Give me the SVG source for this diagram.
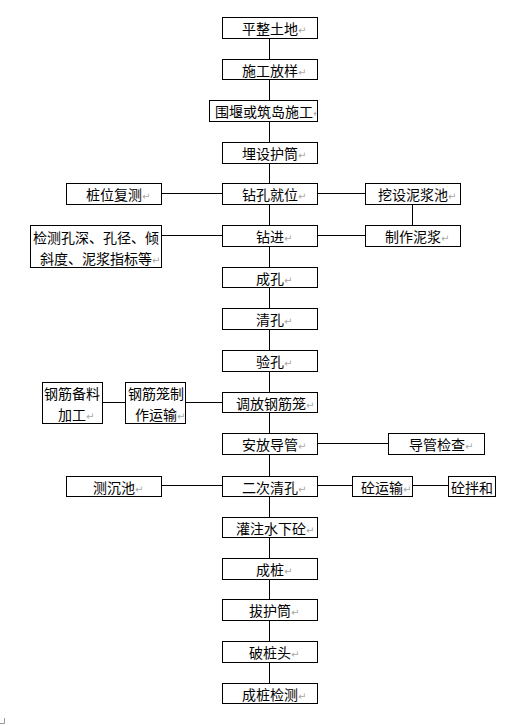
<svg xmlns="http://www.w3.org/2000/svg" width="525" height="726" viewBox="0 0 525 726">
<style>
rect.b{fill:#fff;stroke:#000;stroke-width:1}
text{font-family:"Noto Sans CJK SC","Liberation Sans",sans-serif;font-size:14px;fill:#000}
tspan.r{font-family:"DejaVu Sans",sans-serif;font-size:10px;fill:#a8a8a8}
#connectors line{stroke:#000;stroke-width:1}
</style>
<defs>
<clipPath id="c1"><rect x="209" y="100" width="107.5" height="21"/></clipPath>
<clipPath id="c2"><rect x="126" y="382" width="59.5" height="41"/></clipPath>
<clipPath id="c3"><rect x="353" y="476" width="59.5" height="20"/></clipPath>
</defs>
<rect width="525" height="726" fill="#fff"/>
<g id="connectors">
<line x1="269.5" y1="38" x2="269.5" y2="59"/>
<line x1="269.5" y1="79" x2="269.5" y2="100"/>
<line x1="269.5" y1="121" x2="269.5" y2="142"/>
<line x1="269.5" y1="163" x2="269.5" y2="183"/>
<line x1="269.5" y1="204" x2="269.5" y2="225"/>
<line x1="269.5" y1="246" x2="269.5" y2="267"/>
<line x1="269.5" y1="287" x2="269.5" y2="308"/>
<line x1="269.5" y1="329" x2="269.5" y2="350"/>
<line x1="269.5" y1="371" x2="269.5" y2="392"/>
<line x1="269.5" y1="412" x2="269.5" y2="433"/>
<line x1="269.5" y1="454" x2="269.5" y2="476"/>
<line x1="269.5" y1="496" x2="269.5" y2="517"/>
<line x1="269.5" y1="537" x2="269.5" y2="558"/>
<line x1="269.5" y1="579" x2="269.5" y2="599"/>
<line x1="269.5" y1="620" x2="269.5" y2="641"/>
<line x1="269.5" y1="662" x2="269.5" y2="683"/>
<line x1="162" y1="193.5" x2="222" y2="193.5"/>
<line x1="317" y1="193.5" x2="365" y2="193.5"/>
<line x1="162" y1="235.5" x2="222" y2="235.5"/>
<line x1="317" y1="235.5" x2="365" y2="235.5"/>
<line x1="412.5" y1="204" x2="412.5" y2="225"/>
<line x1="102" y1="402.5" x2="126" y2="402.5"/>
<line x1="186" y1="402.5" x2="222" y2="402.5"/>
<line x1="317" y1="443.5" x2="389" y2="443.5"/>
<line x1="162" y1="485.5" x2="222" y2="485.5"/>
<line x1="317" y1="485.5" x2="353" y2="485.5"/>
<line x1="413" y1="485.5" x2="448" y2="485.5"/>
</g>
<g id="n1"><rect class="b" x="222.5" y="17.5" width="95" height="21"/><text x="242" y="34">平整土地<tspan class="r">↵</tspan></text></g>
<g id="n2"><rect class="b" x="222.5" y="59.5" width="95" height="20"/><text x="242" y="75.5">施工放样<tspan class="r">↵</tspan></text></g>
<g id="n3"><rect class="b" x="209.5" y="100.5" width="108" height="21"/><text x="215" y="117" clip-path="url(#c1)">围堰或筑岛施工<tspan class="r">↵</tspan></text></g>
<g id="n4"><rect class="b" x="222.5" y="142.5" width="95" height="21"/><text x="242" y="159">埋设护筒<tspan class="r">↵</tspan></text></g>
<g id="n5"><rect class="b" x="222.5" y="183.5" width="95" height="21"/><text x="242" y="200">钻孔就位<tspan class="r">↵</tspan></text></g>
<g id="n6"><rect class="b" x="222.5" y="225.5" width="95" height="21"/><text x="256" y="242">钻进<tspan class="r">↵</tspan></text></g>
<g id="n7"><rect class="b" x="222.5" y="267.5" width="95" height="20"/><text x="256" y="283.5">成孔<tspan class="r">↵</tspan></text></g>
<g id="n8"><rect class="b" x="222.5" y="308.5" width="95" height="21"/><text x="256" y="325">清孔<tspan class="r">↵</tspan></text></g>
<g id="n9"><rect class="b" x="222.5" y="350.5" width="95" height="21"/><text x="256" y="367">验孔<tspan class="r">↵</tspan></text></g>
<g id="n10"><rect class="b" x="222.5" y="392.5" width="95" height="20"/><text x="236" y="408.5">调放钢筋笼<tspan class="r">↵</tspan></text></g>
<g id="n11"><rect class="b" x="222.5" y="433.5" width="95" height="21"/><text x="242" y="450">安放导管<tspan class="r">↵</tspan></text></g>
<g id="n12"><rect class="b" x="222.5" y="476.5" width="95" height="20"/><text x="242" y="492.5">二次清孔<tspan class="r">↵</tspan></text></g>
<g id="n13"><rect class="b" x="222.5" y="517.5" width="95" height="20"/><text x="236" y="533.5">灌注水下砼<tspan class="r">↵</tspan></text></g>
<g id="n14"><rect class="b" x="222.5" y="558.5" width="95" height="21"/><text x="256" y="575">成桩<tspan class="r">↵</tspan></text></g>
<g id="n15"><rect class="b" x="222.5" y="599.5" width="95" height="21"/><text x="249" y="616">拔护筒<tspan class="r">↵</tspan></text></g>
<g id="n16"><rect class="b" x="222.5" y="641.5" width="95" height="21"/><text x="249" y="658">破桩头<tspan class="r">↵</tspan></text></g>
<g id="n17"><rect class="b" x="222.5" y="683.5" width="95" height="20"/><text x="242" y="699.5">成桩检测<tspan class="r">↵</tspan></text></g>
<g id="s1"><rect class="b" x="66.5" y="183.5" width="95" height="21"/><text x="86" y="200">桩位复测<tspan class="r">↵</tspan></text></g>
<g id="s2"><rect class="b" x="365.5" y="183.5" width="95" height="21"/><text x="378" y="200">挖设泥浆池<tspan class="r">↵</tspan></text></g>
<g id="s3"><rect class="b" x="30.5" y="225.5" width="131" height="42"/><text x="33" y="243">检测孔深、孔径、倾</text><text x="40" y="264">斜度、泥浆指标等<tspan class="r">↵</tspan></text></g>
<g id="s4"><rect class="b" x="365.5" y="225.5" width="95" height="21"/><text x="385" y="242">制作泥浆<tspan class="r">↵</tspan></text></g>
<g id="s5"><rect class="b" x="42.5" y="382.5" width="60" height="41"/><text x="44" y="399">钢筋备料</text><text x="58" y="420">加工<tspan class="r">↵</tspan></text></g>
<g id="s6"><rect class="b" x="125.5" y="382.5" width="60" height="41"/><text x="128" y="399">钢筋笼制</text><text x="135" y="420" clip-path="url(#c2)">作运输<tspan class="r">↵</tspan></text></g>
<g id="s7"><rect class="b" x="388.5" y="433.5" width="96" height="21"/><text x="409" y="450">导管检查<tspan class="r">↵</tspan></text></g>
<g id="s8"><rect class="b" x="66.5" y="476.5" width="95" height="20"/><text x="93" y="492.5">测沉池<tspan class="r">↵</tspan></text></g>
<g id="s9"><rect class="b" x="352.5" y="476.5" width="60" height="20"/><text x="361" y="492.5" clip-path="url(#c3)">砼运输<tspan class="r">↵</tspan></text></g>
<g id="s10"><rect class="b" x="448.5" y="476.5" width="47" height="20"/><text x="451" y="492.5">砼拌和</text></g>
<polyline points="0,723.5 4.5,723.5 4.5,718" fill="none" stroke="#999" stroke-width="1"/>
</svg>
